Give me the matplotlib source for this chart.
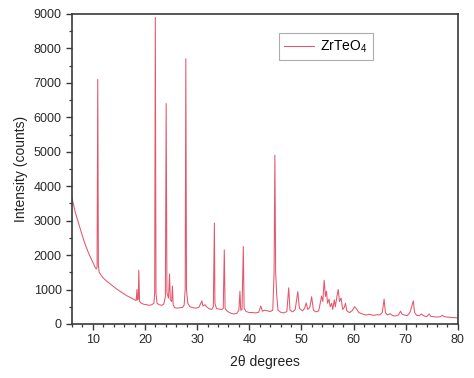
import matplotlib
matplotlib.use("Agg")
import matplotlib.pyplot as plt

plt.rcParams['font.family'] = ['Liberation Sans', 'DejaVu Sans']
plt.rcParams['mathtext.fontset'] = 'custom'
plt.rcParams['mathtext.rm'] = 'Liberation Sans'
plt.rcParams['mathtext.it'] = 'Liberation Sans'

# (2theta, intensity)
two_theta = [
    6.0, 6.3, 6.6, 7.0, 7.4, 7.8, 8.2, 8.6, 9.0, 9.4, 9.8, 10.2, 10.5, 10.7,
    10.8, 10.93, 11.05, 11.2, 11.5, 12.0, 12.5, 13.0, 13.5, 14.0, 14.5, 15.0,
    15.5, 16.0, 16.5, 17.0, 17.5, 18.0, 18.3, 18.45, 18.55, 18.7, 18.8, 18.95,
    19.3, 19.8, 20.3, 20.8, 21.3, 21.7, 21.85, 21.97, 22.1, 22.3, 22.7, 23.2,
    23.6, 23.9, 24.05, 24.2, 24.5, 24.7, 24.85, 25.1, 25.25, 25.4, 25.7, 26.2,
    26.7, 27.2, 27.5, 27.7, 27.82, 27.95, 28.2, 28.6, 29.2, 29.8, 30.3, 30.7,
    30.9, 31.1, 31.5, 31.8, 32.3, 32.8, 33.1, 33.3, 33.4, 33.7, 34.2, 34.7,
    35.0, 35.2, 35.35, 35.7, 36.2, 36.7, 37.2, 37.6, 38.0, 38.2, 38.35, 38.6,
    38.85, 39.0, 39.4, 40.0, 40.6, 41.2, 41.8, 42.2, 42.5, 43.0, 43.5, 44.0,
    44.5, 44.75, 44.9, 45.05, 45.25, 45.5, 46.0, 46.6, 47.2, 47.55, 47.8, 48.3,
    48.8, 49.3, 49.6, 50.2, 50.6, 50.9, 51.2, 51.6, 51.95, 52.3, 52.8, 53.3,
    53.6, 53.85, 54.1, 54.35, 54.6, 54.8, 55.0, 55.3, 55.5, 55.8, 56.0, 56.3,
    56.5, 56.8, 57.05, 57.3, 57.6, 57.9, 58.2, 58.45, 58.7, 59.2, 59.7, 60.2,
    60.6, 61.0, 61.5, 62.0, 62.5, 63.0, 63.5, 64.0, 64.5, 65.0, 65.5, 65.85,
    66.1, 66.5, 67.0, 67.5, 68.0, 68.6, 69.0, 69.3, 69.8, 70.3, 70.8, 71.1,
    71.45, 71.7, 72.1, 72.6, 73.0, 73.4, 74.0, 74.5, 74.8, 75.3, 76.0, 76.6,
    77.0, 77.4, 78.0, 78.6, 79.2, 80.0,
]
intensity = [
    3650, 3450, 3250, 3050, 2850, 2650, 2450, 2280, 2120, 1980, 1850, 1720, 1620, 1600,
    1650, 7100, 1700, 1500, 1430, 1330, 1260, 1200, 1140, 1080, 1020, 970,
    920, 870, 820, 780, 740, 700, 680, 1000, 700, 720, 1560, 650,
    600, 570, 560, 540, 560, 600, 900, 8900, 900, 600, 560, 540,
    580, 800, 6400, 900, 750, 1450, 700, 650, 1100, 550, 470, 460,
    470, 480, 550, 1000, 7700, 1000, 600, 500, 470, 460, 480, 600,
    670, 520, 560, 500, 440, 420, 500, 2930, 600, 450, 430, 420,
    450, 2150, 450, 380, 330, 300, 290, 310, 400, 950, 400, 420,
    2250, 450, 360, 330, 330, 320, 340, 520, 370, 400, 380, 360,
    400, 1500, 4900, 1500, 840, 400, 340, 320, 360, 1050, 400, 350,
    420, 940, 450, 380, 450, 610, 420, 480, 790, 400, 350, 380,
    600, 810, 650, 1270, 800, 950, 600, 720, 500, 600, 420, 700,
    500, 800, 1000, 650, 750, 420, 480, 600, 380, 330, 380, 500,
    430, 330, 300, 270, 260, 280, 260, 250, 270, 260, 330, 720,
    330, 260, 300, 240, 230, 260, 370, 280, 260, 240, 330, 480,
    670, 330, 250, 240, 290, 240, 210, 290, 220, 210, 200, 210,
    250, 210, 200, 190, 185, 175,
]
series_label = 'ZrTeO$_4$'

fig = plt.figure(figsize=(4.74, 3.78), dpi=100)
ax = fig.add_axes([0.152, 0.143, 0.814, 0.820])

ax.plot(two_theta, intensity, color='#e4566b', lw=0.75, label=series_label)

ax.set_xlim(6, 80)
ax.set_ylim(0, 9000)
ax.set_xticks([10, 20, 30, 40, 50, 60, 70, 80])
ax.set_xticks(range(6, 81, 2), minor=True)
ax.set_yticks(range(0, 9001, 1000))
ax.set_yticks(range(500, 9000, 1000), minor=True)

for s in ax.spines.values():
    s.set_color('#3a3a3a')
    s.set_linewidth(1.2)
ax.tick_params(which='major', direction='out', length=4, width=1.0, color='#3a3a3a',
               labelsize=9, labelcolor='#2a2a2a')
ax.tick_params(which='minor', direction='out', length=2.5, width=0.9, color='#3a3a3a')

ax.set_xlabel('2θ degrees', fontsize=10, color='#222222', labelpad=6)
ax.set_ylabel('Intensity (counts)', fontsize=10, color='#222222', labelpad=4)

leg = ax.legend(loc='upper left', bbox_to_anchor=(0.536, 0.939), borderaxespad=0,
                fontsize=10, frameon=True, fancybox=False, handlelength=2.15,
                handletextpad=0.4, borderpad=0.4)
leg.get_frame().set_edgecolor('#999999')
leg.get_frame().set_linewidth(0.8)

fig.savefig('out.png', dpi=100)
